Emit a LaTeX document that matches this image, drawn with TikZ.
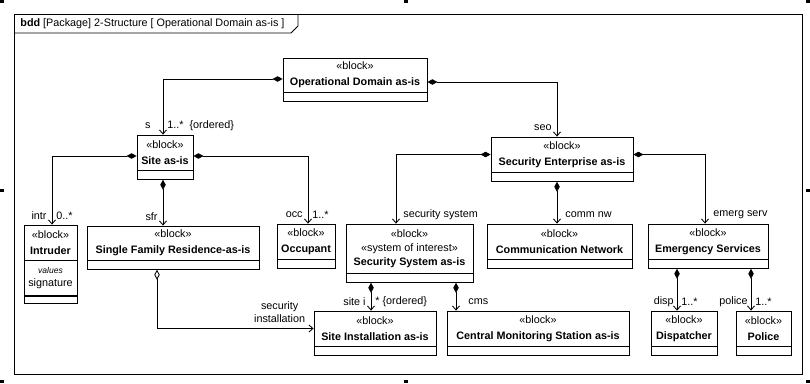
\documentclass[tikz,border=0pt]{standalone}
\usepackage{fontspec}
\setmainfont{Liberation Sans}
\usetikzlibrary{arrows.meta,positioning}

\begin{document}
\begin{tikzpicture}[
    x=1pt,
    y=-1pt,
    font=\fontsize{10.8}{13.2}\selectfont,
    line width=0.85pt,
    blockname/.style={
        draw,
        minimum width=#1,
        minimum height=35pt,
        inner sep=0pt,
        align=center
    },
    compart/.style={
        draw,
        minimum width=#1,
        minimum height=8.5pt,
        inner sep=0pt
    },
    composite/.style={
        {Diamond[length=10pt,width=5.5pt]}-{Straight Barb[length=4pt,width=7pt]}
    },
    shared/.style={
        {Diamond[open,length=10pt,width=5.5pt]}-{Straight Barb[length=4pt,width=7pt]}
    },
    role/.style={pos=1,anchor=east,inner sep=0pt,xshift=-5pt,yshift=9pt},
    mult/.style={pos=1,anchor=west,inner sep=0pt,xshift=4pt,yshift=9pt}
]
    \useasboundingbox (0,0) rectangle (810,383);

    % handles round the picture
    \foreach \hx/\hy in {0/0,404/0,806/0,0/189,806/189,0/380,404/380,806/380}
        \fill (\hx,\hy) rectangle ++(4,3);

    % frame
    \draw (14,14) rectangle (802,374);
    \draw (14,33) -- (291,33) -- (298,26) -- (298,14);
    \node[anchor=west,inner sep=0pt] (titulo) at (20,24)
        {\textbf{bdd} [Package] 2-Structure [ Operational Domain as-is ]};

    % blocks
    \node[blockname=144pt,minimum height=34pt] (od) at (355,75)
        {«block»\\[3pt]\textbf{Operational Domain as-is}};
    \node[compart=144pt,below=0pt of od] (od-c) {};

    \node[blockname=142pt] (se) at (562,154.5)
        {«block»\\[3pt]\textbf{Security Enterprise as-is}};
    \node[compart=142pt,below=0pt of se] (se-c) {};

    \node[blockname=56pt] (site) at (165,152.5)
        {«block»\\[3pt]\textbf{Site as-is}};
    \node[compart=56pt,below=0pt of site] (site-c) {};

    \node[blockname=53pt] (intr) at (50.5,242.5)
        {«block»\\[3pt]\textbf{Intruder}};
    \node[blockname=53pt,below=0pt of intr] (intr-v)
        {{\fontsize{8.5}{10}\selectfont\itshape values}\\signature};
    \node[compart=53pt,minimum height=7pt,below=0pt of intr-v] (intr-c) {};

    \node[blockname=172pt,minimum height=34pt] (sfr) at (173,243)
        {«block»\\[3pt]\textbf{Single Family Residence-as-is}};
    \node[compart=172pt,below=0pt of sfr] (sfr-c) {};

    \node[blockname=58pt] (occ) at (306,241.5)
        {«block»\\[3pt]\textbf{Occupant}};
    \node[compart=58pt,below=0pt of occ] (occ-c) {};

    \node[blockname=127pt,minimum height=49pt] (ss) at (409.5,248.5)
        {«block»\\[0.3pt]«system of interest»\\[0.8pt]\textbf{Security System as-is}};
    \node[compart=127pt,below=0pt of ss] (ss-c) {};

    \node[blockname=145pt] (cn) at (559.5,241.5)
        {«block»\\[3pt]\textbf{Communication Network}};
    \node[compart=145pt,below=0pt of cn] (cn-c) {};

    \node[blockname=120pt] (es) at (708,241.5)
        {«block»\\[3pt]\textbf{Emergency Services}};
    \node[compart=120pt,below=0pt of es] (es-c) {};

    \node[blockname=122pt] (si) at (375,328.5)
        {«block»\\[3pt]\textbf{Site Installation as-is}};
    \node[compart=122pt,below=0pt of si] (si-c) {};

    \node[blockname=182pt] (cms) at (538,328.5)
        {«block»\\[3pt]\textbf{Central Monitoring Station as-is}};
    \node[compart=182pt,below=0pt of cms] (cms-c) {};

    \node[blockname=66pt] (disp) at (684,328.5)
        {«block»\\[3pt]\textbf{Dispatcher}};
    \node[compart=66pt,below=0pt of disp] (disp-c) {};

    \node[blockname=55pt] (pol) at (763.5,328.5)
        {«block»\\[3pt]\textbf{Police}};
    \node[compart=55pt,below=0pt of pol] (pol-c) {};

    % part associations
    \draw[composite] ([yshift=-4pt]od.west) -| ([xshift=-2pt]site.north)
        node[role,xshift=-7pt] {s}
        node[mult] {1..*\ \ \{ordered\}};
    \draw[composite] ([yshift=-7pt]od.east) -| ([xshift=-5pt]se.north)
        node[role] {seo};

    \draw[composite] ([yshift=-3.5pt]site.west) -| ([xshift=1.5pt]intr.north)
        node[role] {intr}
        node[mult] {0..*};
    \draw[composite] ([yshift=-3.5pt]site.east) -| ([xshift=2pt]occ.north)
        node[role] {occ}
        node[mult] {1..*};
    \draw[composite] ([xshift=-2pt]site-c.south) -- ([xshift=-2pt]site-c.south |- sfr.north)
        node[role] {sfr};

    \draw[composite] (se.west) -| ([xshift=-13.5pt]ss.north)
        node[mult,xshift=3pt] {security system};
    \draw[composite] ([xshift=-5pt]se-c.south) -- ([xshift=-5pt]se-c.south |- cn.north)
        node[mult,xshift=4pt] {comm nw};
    \draw[composite] (se.east) -| ([xshift=-3pt]es.north)
        node[mult,xshift=4pt] {emerg serv};

    \draw[composite] ([xshift=-38.5pt]ss-c.south) -- ([xshift=-38.5pt]ss-c.south |- si.north)
        node[role] {site i}
        node[mult] {*\ \{ordered\}};
    \draw[composite] ([xshift=46.5pt]ss-c.south) -- ([xshift=46.5pt]ss-c.south |- cms.north)
        node[mult,xshift=8pt] {cms};

    \draw[composite] ([xshift=-31pt]es-c.south) -- ([xshift=-31pt]es-c.south |- disp.north)
        node[role,xshift=2pt] {disp}
        node[mult] {1..*};
    \draw[composite] ([xshift=43pt]es-c.south) -- ([xshift=43pt]es-c.south |- pol.north)
        node[role,xshift=2pt] {police}
        node[mult] {1..*};

    % reference association
    \draw[shared] ([xshift=-16pt]sfr-c.south) |- (si.west)
        node[pos=1,anchor=south east,align=center,inner sep=0pt,xshift=-8pt,yshift=5pt]
        {security\\installation};
\end{tikzpicture}
\end{document}
